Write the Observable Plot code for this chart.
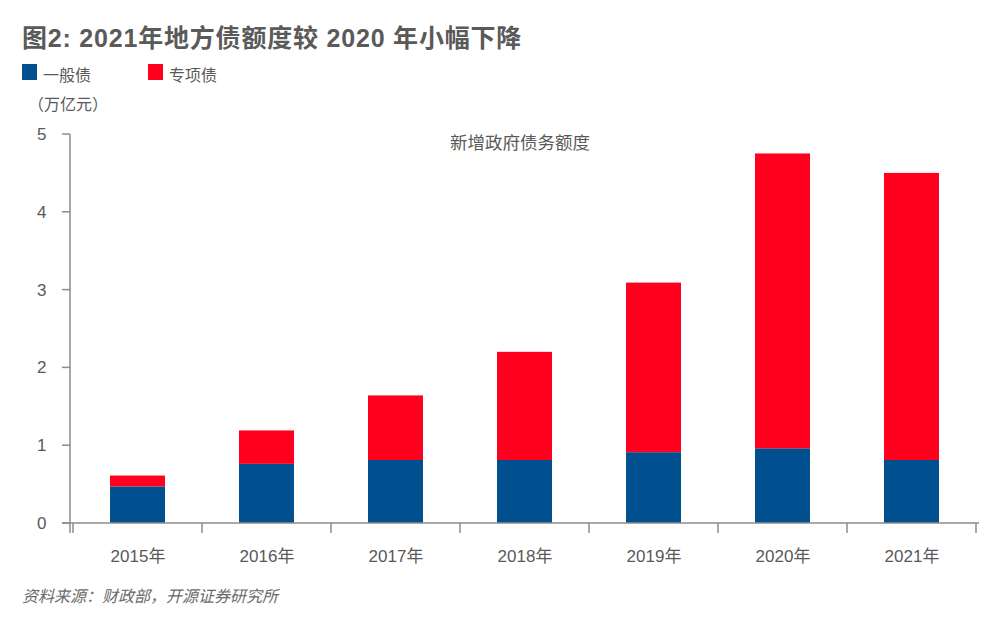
<!DOCTYPE html>
<html>
<head>
<meta charset="utf-8">
<script src="https://cdn.jsdelivr.net/npm/d3@7"></script>
<script src="https://cdn.jsdelivr.net/npm/@observablehq/plot@0.6"></script>
<style>
  html, body { margin: 0; padding: 0; background: #fff; }
  body { width: 1000px; height: 632px; position: relative; overflow: hidden;
         font-family: "Liberation Sans", "Noto Sans CJK SC", sans-serif; color: #595959; }
  .abs { position: absolute; white-space: nowrap; }
  #title { left: 22px; top: 18px; font-size: 25px; font-weight: bold; color: #5a5a5a; letter-spacing: 0.8px; }
  .sw { position: absolute; width: 15px; height: 16px; }
  .lg { font-size: 16px; top: 62px; }
  #unit { left: 28px; top: 94px; font-size: 16px; font-family: "Noto Sans CJK SC", sans-serif; line-height: 1.2; }
  #src { left: 22px; top: 583px; font-size: 16px; font-style: italic; color: #6a6a6a; }
  #chart { position: absolute; left: 0; top: 115px; }
</style>
</head>
<body>
<div id="title" class="abs">图2: 2021年地方债额度较 2020 年小幅下降</div>
<div class="sw" style="left:22px;top:64px;background:#004F8E"></div>
<div class="abs lg" style="left:43px">一般债</div>
<div class="sw" style="left:148px;top:64px;background:#FF001F"></div>
<div class="abs lg" style="left:169px">专项债</div>
<div id="unit" class="abs">（万亿元）</div>
<div id="chart"></div>
<div id="src" class="abs">资料来源：财政部，开源证券研究所</div>
<script>
const years = ["2015年", "2016年", "2017年", "2018年", "2019年", "2020年", "2021年"];
const generalBond = [0.47, 0.76, 0.81, 0.81, 0.91, 0.96, 0.81];
const specialBond = [0.14, 0.43, 0.83, 1.39, 2.18, 3.79, 3.69];
const seriesNames = ["一般债", "专项债"];
const seriesColors = ["#004F8E", "#FF001F"];
const yTicks = [0, 1, 2, 3, 4, 5];
const annotation = "新增政府债务额度";

const rows = [];
years.forEach((y, i) => {
  rows.push({year: y, series: seriesNames[0], value: generalBond[i]});
  rows.push({year: y, series: seriesNames[1], value: specialBond[i]});
});

const axisColor = "#8c8c8c";

function axes(index, scales, values, dims) {
  const g = d3.create("svg:g").attr("stroke", axisColor).attr("stroke-width", 1.5).attr("fill", "none");
  const x = scales.x, y = scales.y;
  const x0 = dims.marginLeft, x1 = dims.width - dims.marginRight;
  const y0 = y(0), yTop = y(5);
  g.append("line").attr("x1", x0).attr("x2", x0).attr("y1", yTop).attr("y2", y0 + 10);
  g.append("line").attr("x1", x0 - 8).attr("x2", x1).attr("y1", y0).attr("y2", y0);
  const step = x.step();
  const start = x(years[0]) - (step - x.bandwidth()) / 2;
  for (let i = 0; i <= years.length; i++) {
    const xx = start + i * step;
    g.append("line").attr("x1", xx).attr("x2", xx).attr("y1", y0).attr("y2", y0 + 10);
  }
  for (const t of yTicks) {
    g.append("line").attr("x1", x0 - 8).attr("x2", x0).attr("y1", y(t)).attr("y2", y(t));
  }
  return g.node();
}

const chart = Plot.plot({
  width: 1000,
  height: 460,
  marginTop: 19,
  marginBottom: 52,
  marginLeft: 70,
  marginRight: 21,
  style: {fontFamily: '"Liberation Sans", "Noto Sans CJK SC", sans-serif', color: "#595959", background: "transparent"},
  x: {domain: years, paddingInner: 0.577, paddingOuter: 0.2885, label: null},
  y: {domain: [0, 5], label: null},
  color: {domain: seriesNames, range: seriesColors},
  marks: [
    Plot.barY(rows, {x: "year", y: "value", fill: "series", order: seriesNames}),
    axes,
    Plot.axisY({ticks: yTicks, tickFormat: d3.format("d"), tickSize: 0, tickPadding: 24, fontSize: 17, label: null, fill: "#595959"}),
    Plot.axisX({tickSize: 0, tickPadding: 26, fontSize: 17, label: null, fill: "#595959"}),
    Plot.text([annotation], {x: () => years[3], y: () => 4.88, text: d => d, fontSize: 17.5, fill: "#595959", dx: -5})
  ]
});
document.getElementById("chart").appendChild(chart);
</script>
</body>
</html>
